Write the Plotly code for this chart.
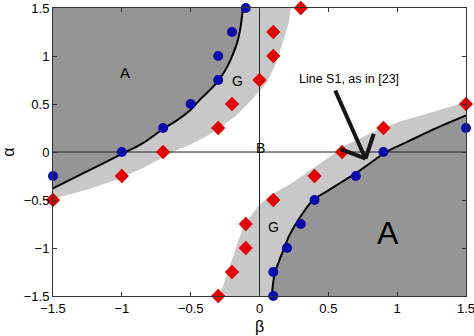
import plotly.graph_objects as go

# Phase-diagram boundaries
upper_curve_beta = [-1.5, -1.25, -1.0, -0.85, -0.7, -0.6, -0.5, -0.43, -0.35, -0.29, -0.23, -0.19, -0.16, -0.14, -0.12]
upper_curve_alpha = [-0.38, -0.2, -0.02, 0.09, 0.24, 0.33, 0.44, 0.55, 0.66, 0.76, 0.9, 1.03, 1.15, 1.28, 1.5]

lower_curve_beta = [0.09, 0.11, 0.16, 0.22, 0.29, 0.39, 0.5, 0.6, 0.7, 0.8, 0.92, 1.08, 1.24, 1.5]
lower_curve_alpha = [-1.5, -1.27, -1.07, -0.86, -0.69, -0.5, -0.4, -0.31, -0.22, -0.12, 0.0, 0.11, 0.22, 0.38]

upper_band_beta = [-1.5, -1.25, -1.04, -0.85, -0.72, -0.6, -0.48, -0.38, -0.28, -0.17, -0.07, 0.05, 0.12, 0.17, 0.21, 0.23]
upper_band_alpha = [-0.49, -0.39, -0.29, -0.17, -0.07, 0.02, 0.09, 0.17, 0.26, 0.38, 0.52, 0.72, 0.92, 1.14, 1.33, 1.5]

lower_band_beta = [-0.29, -0.25, -0.21, -0.12, -0.05, 0.0, 0.08, 0.17, 0.25, 0.45, 0.63, 0.87, 1.05, 1.24, 1.5]
lower_band_alpha = [-1.5, -1.33, -1.17, -0.79, -0.64, -0.55, -0.45, -0.38, -0.31, -0.11, 0.07, 0.24, 0.33, 0.41, 0.52]

# Blue circles
blue_beta = [-1.5, -1.0, -0.7, -0.5, -0.3, -0.3, -0.2, -0.1,
             0.1, 0.1, 0.2, 0.3, 0.4, 0.7, 0.9, 1.5]
blue_alpha = [-0.25, 0.0, 0.25, 0.5, 0.75, 1.0, 1.25, 1.5,
              -1.5, -1.25, -1.0, -0.75, -0.5, -0.25, 0.0, 0.25]

# Red diamonds
red_beta = [-1.5, -1.0, -0.7, -0.3, -0.2, 0.0, 0.1, 0.1, 0.3,
            -0.3, -0.2, -0.1, -0.1, 0.1, 0.4, 0.6, 0.9, 1.5]
red_alpha = [-0.5, -0.25, 0.0, 0.25, 0.5, 0.75, 1.0, 1.25, 1.5,
             -1.5, -1.25, -1.0, -0.75, -0.5, -0.25, 0.0, 0.25, 0.5]

tick_vals = [-1.5, -1, -0.5, 0, 0.5, 1, 1.5]
tick_text = ["\u22121.5", "\u22121", "\u22120.5", "0", "0.5", "1", "1.5"]

# Arrow for "Line S1" annotation: tail, tip, and the two wing ends of the open head
arrow_tail = (0.55, 0.64)
arrow_tip = (0.77, -0.07)
arrow_wings = [(0.59, 0.03), (0.83, 0.19)]

DARK = "#959595"
LIGHT = "#c8c8c8"
FONT = "Liberation Sans, Arial, sans-serif"

fig = go.Figure()

# light bands (drawn as whole region, dark overlaid)
fig.add_trace(go.Scatter(x=upper_band_beta + [-1.5], y=upper_band_alpha + [1.5],
                         fill="toself", fillcolor=LIGHT, line=dict(width=0), mode="lines",
                         hoverinfo="skip"))
fig.add_trace(go.Scatter(x=lower_band_beta + [1.5], y=lower_band_alpha + [-1.5],
                         fill="toself", fillcolor=LIGHT, line=dict(width=0), mode="lines",
                         hoverinfo="skip"))
# dark regions
fig.add_trace(go.Scatter(x=upper_curve_beta + [-1.5], y=upper_curve_alpha + [1.5],
                         fill="toself", fillcolor=DARK, line=dict(width=0), mode="lines",
                         hoverinfo="skip"))
fig.add_trace(go.Scatter(x=lower_curve_beta + [1.5], y=lower_curve_alpha + [-1.5],
                         fill="toself", fillcolor=DARK, line=dict(width=0), mode="lines",
                         hoverinfo="skip"))

# axis cross lines
fig.add_trace(go.Scatter(x=[0, 0], y=[-1.5, 1.5], mode="lines",
                         line=dict(color="#222222", width=1), hoverinfo="skip"))
fig.add_trace(go.Scatter(x=[-1.5, 1.5], y=[0, 0], mode="lines",
                         line=dict(color="#222222", width=1), hoverinfo="skip"))

# boundary curves
fig.add_trace(go.Scatter(x=upper_curve_beta, y=upper_curve_alpha, mode="lines",
                         line=dict(color="black", width=2, shape="spline"), hoverinfo="skip"))
fig.add_trace(go.Scatter(x=lower_curve_beta, y=lower_curve_alpha, mode="lines",
                         line=dict(color="black", width=2, shape="spline"), hoverinfo="skip"))

# markers
fig.add_trace(go.Scatter(x=red_beta, y=red_alpha, mode="markers",
                         marker=dict(symbol="diamond", size=11, color="#e00000"), cliponaxis=False))
fig.add_trace(go.Scatter(x=blue_beta, y=blue_alpha, mode="markers",
                         marker=dict(symbol="circle", size=10, color="#0a0aa8"), cliponaxis=False))

annos = [
    dict(x=-0.98, y=0.83, text="A", showarrow=False, font=dict(size=15, color="black", family=FONT)),
    dict(x=0.93, y=-0.84, text="A", showarrow=False, font=dict(size=32, color="black", family=FONT)),
    dict(x=-0.16, y=0.74, text="G", showarrow=False, font=dict(size=14, color="black", family=FONT)),
    dict(x=0.10, y=-0.78, text="G", showarrow=False, font=dict(size=14, color="black", family=FONT)),
    dict(x=0.01, y=0.04, text="B", showarrow=False, font=dict(size=14, color="black", family=FONT)),
    dict(x=0.65, y=0.76, text="Line S1, as in [23]", showarrow=False,
         font=dict(size=12.5, color="black", family=FONT)),
]

shapes = [dict(type="line", x0=arrow_tail[0], y0=arrow_tail[1], x1=arrow_tip[0], y1=arrow_tip[1],
               line=dict(color="#151515", width=4), layer="above")]
for wx, wy in arrow_wings:
    shapes.append(dict(type="line", x0=arrow_tip[0], y0=arrow_tip[1], x1=wx, y1=wy,
                       line=dict(color="#151515", width=4), layer="above"))

axis_common = dict(range=[-1.5, 1.5], tickvals=tick_vals, ticktext=tick_text,
                   ticks="inside", ticklen=4, tickcolor="#333333", showline=True,
                   linecolor="#333333", linewidth=1, mirror="ticks", showgrid=False,
                   zeroline=False, ticklabeloverflow="allow", automargin=False,
                   tickfont=dict(size=13, color="black", family=FONT))

fig.update_layout(
    width=474, height=336,
    margin=dict(l=53, r=8, t=8, b=40, autoexpand=False),
    paper_bgcolor="white", plot_bgcolor="white",
    showlegend=False,
    annotations=annos,
    shapes=shapes,
    xaxis=dict(**axis_common, title=dict(text="\u03b2", font=dict(size=16, family=FONT, color="black"), standoff=6)),
    yaxis=dict(**axis_common, title=dict(text="\u03b1", font=dict(size=16, family=FONT, color="black"), standoff=10)),
)

fig.write_html("out.html")
